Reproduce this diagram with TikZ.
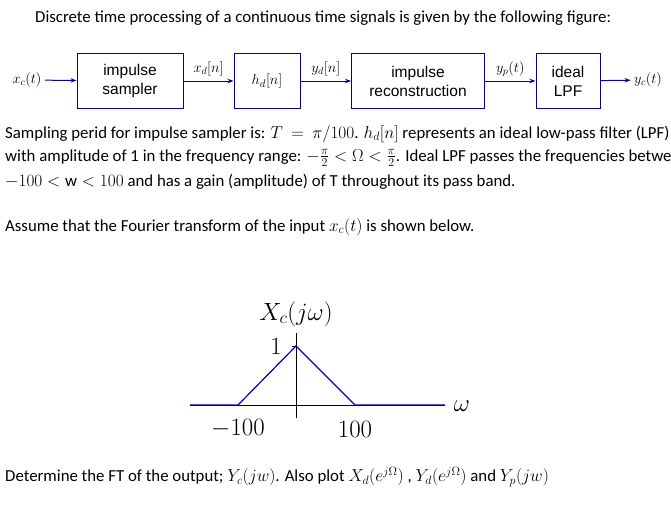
\documentclass[tikz,border=0pt]{standalone}
\usepackage{fontspec}
\setmainfont{Carlito}
\setsansfont{Liberation Sans}
\usetikzlibrary{arrows.meta}
\begin{document}
\begin{tikzpicture}[x=1pt,y=-1pt,
  blk/.style={draw=blue!70!black,line width=1pt,inner sep=0pt,font=\sffamily\fontsize{15.5}{19}\selectfont,align=center},
  sig/.style={draw=blue!70!black,line width=1pt,-{Stealth[length=6pt]}},
  lab/.style={font=\fontsize{14.5}{17}\selectfont},
  txt/.style={anchor=west,font=\fontsize{16.8}{20}\selectfont,inner sep=0pt},
  big/.style={font=\fontsize{23}{27}\selectfont}]
\useasboundingbox (0,0) rectangle (671,509);
\node[txt] (title) at (35,18) {Discrete time processing of a continuous time signals is given by the following figure:};
% blocks
\node[blk,minimum width=106pt,minimum height=55pt] (b1) at (130,81) {impulse\\sampler};
\node[blk,minimum width=66pt,minimum height=55pt] (b2) at (267,81) {$h_d[n]$};
\node[blk,minimum width=133pt,minimum height=55pt] (b3) at (418,81) {impulse\\reconstruction};
\node[blk,minimum width=64pt,minimum height=55pt] (b4) at (568,81) {ideal\\LPF};
\node[lab] (xc) at (27,80) {$x_c(t)$};
\node[lab] (yc) at (648,80) {$y_c(t)$};
\draw[sig] (xc) -- (b1);
\draw[sig] (b1) -- node[lab,above=1pt] {$x_d[n]$} (b2);
\draw[sig] (b2) -- node[lab,above=1pt] {$y_d[n]$} (b3);
\draw[sig] (b3) -- node[lab,above=1pt] {$y_p(t)$} (b4);
\draw[sig] (b4) -- (yc);
% paragraph
\node[txt] (p1) at (5,134) {Sampling perid for impulse sampler is: $T\ =\ \pi/100$. $h_d[n]$ represents an ideal low-pass filter (LPF)};
\node[txt] (p2) at (5,158) {with amplitude of 1 in the frequency range: $-\frac{\pi}{2}<\Omega<\frac{\pi}{2}$. Ideal LPF passes the frequencies between};
\node[txt] (p3) at (5,182) {$-100<\mathrm{w}<100$ and has a gain (amplitude) of T throughout its pass band.};
\node[txt] (p4) at (5,227) {Assume that the Fourier transform of the input $x_c(t)$ is shown below.};
% plot
\draw[line width=0.6pt] (190,405) -- (445,405);
\draw[line width=0.6pt] (296,418) -- (296,333);
\draw[line width=0.6pt] (292,346) -- (296,346);
\draw[blue!70!black,line width=1.2pt] (190,405) -- (238,405) -- (296,346) -- (355,405) -- (445,405);
\node[big] (X) at (296,314) {$X_c(j\omega)$};
\node[big] (one) at (276,346) {$1$};
\node[big] (m100) at (238,429) {$-100$};
\node[big] (p100) at (355,429) {$100$};
\node[big] (w) at (462,406) {$\omega$};
\node[txt] (p5) at (5,477) {Determine the FT of the output; $Y_c(jw)$. Also plot $X_d(e^{j\Omega})$ , $Y_d(e^{j\Omega})$ and $Y_p(jw)$};
\end{tikzpicture}
\end{document}
